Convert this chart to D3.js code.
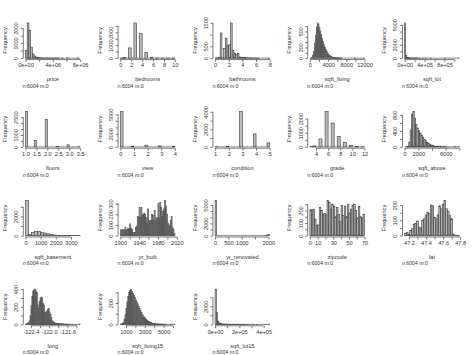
<!DOCTYPE html>
<html><head><meta charset="utf-8">
<script src="https://cdn.jsdelivr.net/npm/d3@7"></script>
<style>
body{margin:0;background:#fff;}
svg text{font-family:"Liberation Sans",Arial,sans-serif;fill:#333;}
</style></head><body>
<svg id="c" width="474" height="355"></svg>
<script>
// ---------------- data ----------------
const varNames = ["price","bedrooms","bathrooms","sqft_living","sqft_lot","floors","view","condition","grade","sqft_above","sqft_basement","yr_built","yr_renovated","zipcode","lat","long","sqft_living15","sqft_lot15"];
const noteText = "n:6004 m:0";

// histogram bin start and bin width per variable
const binStart = [0, 0, 0, 0, 0, 1.0, 0, 1, 3, 0, 0, 1900, 0, 0, 47.15, -122.52, 400, 0];
const binWidth = [250000, 0.5, 0.25, 200, 20000, 0.1, 0.2, 0.2, 0.5, 200, 200, 2, 50, 2, 0.02, 0.02, 100, 10000];

const priceCounts = [500,2350,1850,730,270,140,60,35,20,12,8,6,4,3,3,2,2,1,1,1,0,1,0,0,1,0,0,0,0,0,1,0];
const bedroomsCounts = [3,60,0,790,0,2730,0,1900,0,440,0,65,0,10,0,4,0,1,0,1];
const bathroomsCounts = [3,1,20,1070,3,402,847,536,569,1495,329,209,164,203,43,38,22,28,6,6,4,3,1,2,1,1,0,0,0,0,0,1];
const sqftLivingCounts = [0,1,10,50,130,280,430,580,660,640,580,510,447,370,310,250,200,160,120,95,70,50,38,28,20,14,10,8,6,5,4,3,1,1,1,0,0,0,0,0,0,0,0,0,0,0,0,0,0,1,0,0,0,0,0,0,0,0,0,1];
const sqftLotCounts = [5300,400,130,60,40,25,15,10,6,4,3,2,2,1,0,1,0,0,1,0,0,1,0,0,0,0,1,0,0,0,0,0,0,0,0,0,0,0,0,0,1,0,0,0,0,0,0,0,0,0,0,0,0,0,1];
const floorsCounts = [2967,0,0,0,531,0,0,0,0,2289,0,0,0,0,45,0,0,0,0,170,0,0,0,0,2];
const viewCounts = [5420,0,0,0,90,0,0,0,0,270,0,0,0,0,140,0,0,0,0,84];
const conditionCounts = [8,0,0,0,46,0,0,0,0,4020,0,0,0,0,1480,0,0,0,0,450];
const gradeCounts = [8,67,0,566,0,2495,0,1686,0,726,0,315,0,111,0,25,0,5];
const sqftAboveCounts = [0,1,15,120,420,820,880,720,554,470,400,340,290,240,190,150,110,80,60,45,30,20,15,10,7,5,4,3,2,2,1,0,0,0,0,0,1,0,0,1];
const sqftBasementCounts = [3672,100,330,420,420,350,260,180,110,60,40,25,15,10,6,3,2,1];
const yrBuiltCounts = [55,50,60,45,55,80,50,55,65,60,110,70,60,30,25,30,80,90,180,170,265,170,265,190,200,210,200,170,110,250,140,130,140,200,190,140,235,140,170,160,300,170,310,265,180,230,250,330,280,200,120,90,100,140,180,80,60,20];
const yrRenovatedCounts = [5750,0,0,0,0,0,0,0,0,0,0,0,0,0,0,0,0,0,0,0,0,0,0,0,0,0,0,0,0,0,0,0,0,0,0,0,0,0,8,126,120];
const zipcodeCounts = [205,205,210,130,80,85,225,200,170,175,165,280,265,210,250,230,150,225,170,110,240,160,235,150,250,180,210,240,250,200,140,230,150,140,170];
const latCounts = [15,20,8,35,45,75,80,95,55,50,100,110,135,150,145,200,195,120,110,135,195,175,205,230,175,160,130,110,10,2,1,1];
const longCounts = [2,5,10,20,40,100,210,320,380,390,400,380,360,220,180,260,300,310,300,240,220,130,140,150,170,180,140,110,80,40,30,20,15,15,10,8,5,5,8,5,4,3,2,2,1,1,1,0,1,0,0,1,0,0,0,1,0,0,0,1];
const sqftLiving15Counts = [1,3,8,20,45,90,150,210,260,300,320,330,310,290,270,250,230,210,190,170,150,130,110,95,80,70,60,50,40,32,26,20,16,12,10,8,6,5,4,3,3,2,2,1,1,1,1,0,1,0,0,0,0,1,0,0,0,1];
const sqftLot15Counts = [3900,1300,350,150,80,50,35,25,20,15,10,8,6,5,4,3,3,2,2,2,1,1,1,1,1,0,1,0,1,0,0,1,0,0,1,0,0,0,0,0,0,1,0,0,1];

const allCounts = [priceCounts,bedroomsCounts,bathroomsCounts,sqftLivingCounts,sqftLotCounts,floorsCounts,viewCounts,conditionCounts,gradeCounts,sqftAboveCounts,sqftBasementCounts,yrBuiltCounts,yrRenovatedCounts,zipcodeCounts,latCounts,longCounts,sqftLiving15Counts,sqftLot15Counts];

// x-axis ticks and which of them carry labels
const xTicks = [
  [0,2e6,4e6,6e6,8e6],[0,2,4,6,8,10],[0,2,4,6,8],[0,2000,4000,6000,8000,10000,12000],[0,2e5,4e5,6e5,8e5,1e6],
  [1.0,1.5,2.0,2.5,3.0,3.5],[0,1,2,3,4],[1,2,3,4,5],[4,6,8,10,12],[0,2000,4000,6000,8000],
  [0,1000,2000,3000],[1900,1920,1940,1960,1980,2000,2020],[0,500,1000,1500,2000],[0,10,20,30,40,50,60,70],[47.2,47.3,47.4,47.5,47.6,47.7,47.8],
  [-122.4,-122.2,-122.0,-121.8,-121.6,-121.4],[1000,2000,3000,4000,5000,6000],[0,1e5,2e5,3e5,4e5]
];
const xLabels = [
  ["0e+00","","4e+06","","8e+06"],["0","2","4","6","8","10"],["0","2","4","6","8"],["0","","4000","","8000","","12000"],["0e+00","","4e+05","","8e+05",""],
  ["1.0","1.5","2.0","2.5","3.0","3.5"],["0","1","2","3","4"],["1","2","3","4","5"],["4","6","8","10","12"],["0","2000","","6000",""],
  ["0","1000","2000","3000"],["1900","","1940","","1980","","2020"],["0","500","1000","","2000"],["0","10","","30","","50","","70"],["47.2","","47.4","","47.6","","47.8"],
  ["-122.4","","-122.0","","-121.6",""],["1000","","3000","","5000",""],["0e+00","","2e+05","","4e+05"]
];
// y-axis ticks and labels
const yTicks = [
  [0,500,1000,1500,2000],[0,500,1000,1500,2000,2500],[0,500,1000,1500],[0,100,200,300,400,500,600],[0,1000,2000,3000,4000,5000],
  [0,500,1000,1500,2000,2500],[0,1000,2000,3000,4000,5000],[0,1000,2000,3000,4000],[0,500,1000,1500,2000],[0,200,400,600,800],
  [0,1000,2000,3000],[0,100,200,300],[0,1000,2000,3000,4000,5000],[0,50,100,150,200,250],[0,50,100,150,200],
  [0,100,200,300,400],[0,100,200,300],[0,1000,2000,3000]
];
const yLabels = [
  ["0","","1000","","2000"],["0","","1000","","2000",""],["0","500","","1500"],["0","","200","","","500",""],["0","","2000","","","5000"],
  ["0","","1000","","","2500"],["0","","2000","","","5000"],["0","","2000","","4000"],["0","","1000","","2000"],["0","","400","","800"],
  ["0","","2000",""],["0","100","200","300"],["0","","2000","","","5000"],["0","","100","","200",""],["0","","100","","200"],
  ["0","","200","","400"],["0","","200",""],["0","","2000",""]
];

// ---------------- layout ----------------
const W = 474, H = 355, NC = 5, NR = 4;
const PW = W / NC, PH = H / NR;
const L = 23.3, PWID = 59, T = 21.5, B = 59.5;
const FS = 5.6;
const svg = d3.select("#c");

varNames.forEach((name, idx) => {
  const col = idx % NC, row = Math.floor(idx / NC);
  const g = svg.append("g").attr("transform", `translate(${col * PW},${row * PH})`);
  const counts = allCounts[idx];
  const b0 = binStart[idx], w = binWidth[idx];
  const b1 = b0 + w * counts.length;
  const pad = (b1 - b0) * 0.04;
  const x = d3.scaleLinear().domain([b0 - pad, b1 + pad]).range([L, L + PWID]);
  const maxC = d3.max(counts);
  const y = d3.scaleLinear().domain([-0.04 * maxC, 1.04 * maxC]).range([B, T]);

  // zero line
  g.append("line").attr("x1", x(b0)).attr("x2", x(b1)).attr("y1", y(0)).attr("y2", y(0))
    .attr("stroke", "#8c8c8c").attr("stroke-width", 1);
  // bars
  g.append("g").selectAll("rect").data(counts.map((c, i) => ({c, i}))).join("rect")
    .filter(d => d.c > 0)
    .attr("x", d => x(b0 + d.i * w))
    .attr("width", x(b0 + w) - x(b0))
    .attr("y", d => y(d.c))
    .attr("height", d => y(0) - y(d.c))
    .attr("fill", "#bcbcbc").attr("stroke", "#383838").attr("stroke-width", 0.6);

  // x axis
  const xt = xTicks[idx], xl = xLabels[idx];
  const xa = d3.axisBottom(x).tickValues(xt).tickSize(2.5).tickPadding(1.5).tickSizeOuter(0)
    .tickFormat((d, i) => xl[i]);
  const gx = g.append("g").attr("transform", `translate(0,${B})`).call(xa);
  gx.select(".domain").attr("d", `M${x(xt[0])},0H${x(xt[xt.length - 1])}`);
  // y axis
  const yt = yTicks[idx], yl = yLabels[idx];
  const ya = d3.axisLeft(y).tickValues(yt).tickSize(2.5).tickPadding(1.5).tickSizeOuter(0)
    .tickFormat((d, i) => yl[i]);
  const gy = g.append("g").attr("transform", `translate(${L},0)`).call(ya);
  gy.select(".domain").attr("d", `M0,${y(yt[0])}V${y(yt[yt.length - 1])}`);
  gy.selectAll(".tick text").attr("transform", "rotate(-90)").attr("text-anchor", "middle")
    .attr("x", 0).attr("y", -5.2).attr("dy", 0);
  [gx, gy].forEach(a => {
    a.attr("font-size", FS).attr("font-family", null);
    a.selectAll("path,line").attr("stroke", "#444").attr("stroke-width", 0.7);
    a.selectAll("text").attr("fill", "#333");
  });

  // titles
  g.append("text").attr("transform", `translate(5,${(T + B) / 2}) rotate(-90)`)
    .attr("text-anchor", "middle").attr("dy", "0.35em").attr("font-size", FS).text("Frequency");
  g.append("text").attr("x", L + PWID / 2).attr("y", 79.5).attr("text-anchor", "middle")
    .attr("dy", "0.35em").attr("font-size", FS).text(name);
  g.append("text").attr("x", L - 0.5).attr("y", 86).attr("dy", "0.35em")
    .attr("font-size", FS - 0.4).text(noteText);
});
</script>
</body></html>
